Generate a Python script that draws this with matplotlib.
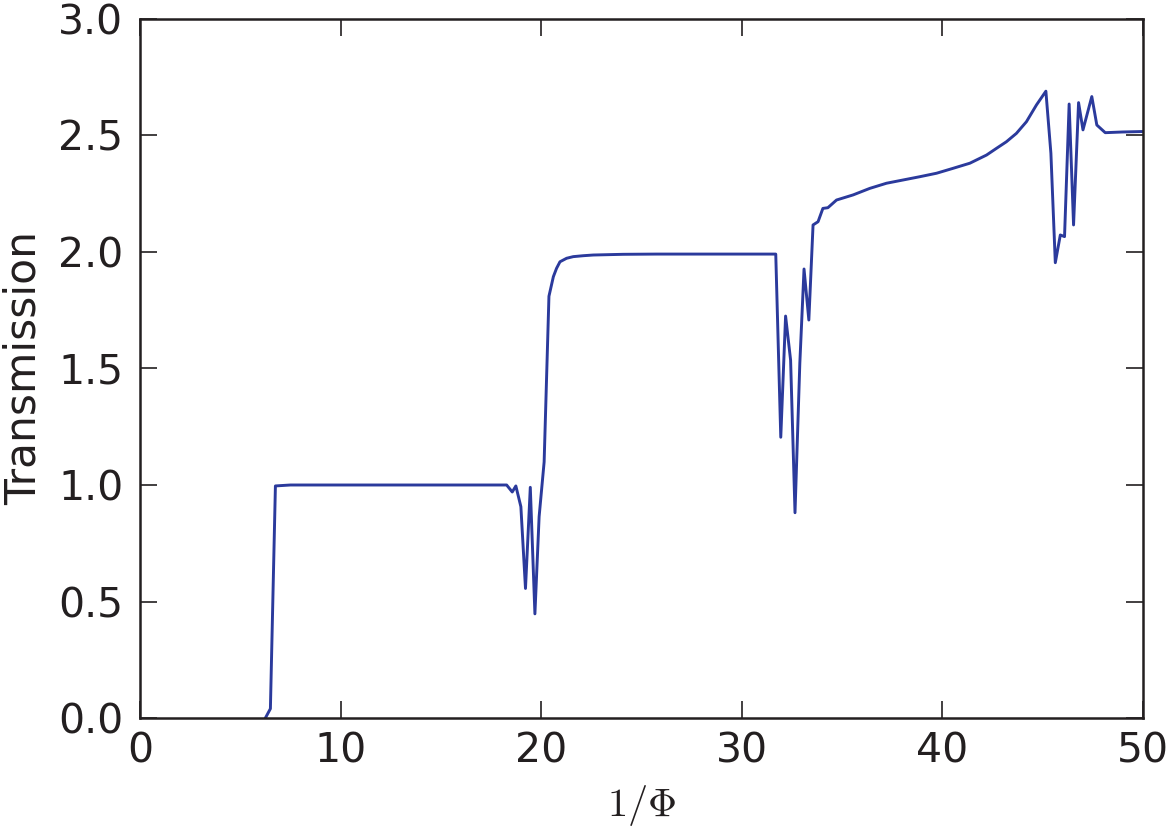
import matplotlib
matplotlib.use('Agg')
import matplotlib.pyplot as plt

# values
inv_phi = [6.25, 6.5, 6.75, 7.5, 12.0, 18.28, 18.56, 18.74, 18.99, 19.22, 19.46,
           19.69, 19.90, 20.15, 20.39, 20.61, 20.77, 20.94, 21.27, 21.60, 22.10, 22.60,
           24.09, 25.76, 28.5, 31.70, 31.95, 32.19, 32.44, 32.66, 32.90, 33.11, 33.35,
           33.56, 33.81, 34.05, 34.30, 34.73, 35.56, 36.39, 37.22, 38.05, 38.88, 39.72,
           40.54, 41.38, 42.21, 42.71, 43.20, 43.70, 44.20, 44.70, 45.17, 45.42,
           45.64, 45.89, 46.10, 46.33, 46.55, 46.80, 47.02, 47.46, 47.71, 48.13, 49.0, 50.0]
transmission = [0.0, 0.04, 0.996, 1.0, 1.0, 1.0, 0.97, 0.996, 0.907, 0.556, 0.99,
                0.447, 0.864, 1.099, 1.81, 1.894, 1.930, 1.958, 1.973, 1.980, 1.984, 1.987,
                1.990, 1.991, 1.991, 1.991, 1.205, 1.725, 1.536, 0.881, 1.522, 1.927, 1.708,
                2.116, 2.13, 2.187, 2.19, 2.223, 2.245, 2.273, 2.295, 2.309, 2.323, 2.338,
                2.359, 2.381, 2.416, 2.445, 2.473, 2.509, 2.559, 2.631, 2.69, 2.424,
                1.954, 2.073, 2.066, 2.635, 2.116, 2.641, 2.524, 2.667, 2.545, 2.512, 2.515, 2.517]

plt.rcParams['font.family'] = 'DejaVu Sans'
plt.rcParams['mathtext.fontset'] = 'cm'
plt.rcParams['xtick.direction'] = 'in'
plt.rcParams['ytick.direction'] = 'in'

fig = plt.figure(figsize=(11.7, 8.32), dpi=100)
ax = fig.add_axes([0.1197, 0.137, 0.857, 0.8402])

ax.plot(inv_phi, transmission, color='#2b3a9c', linewidth=2.1)

ax.set_xlim(0, 50)
ax.set_ylim(0, 3.0)
ax.set_xticks([0, 10, 20, 30, 40, 50])
ax.set_yticks([0.0, 0.5, 1.0, 1.5, 2.0, 2.5, 3.0])
ax.set_yticklabels(['0.0', '0.5', '1.0', '1.5', '2.0', '2.5', '3.0'])
ax.tick_params(axis='both', which='major', labelsize=29.5, length=12, width=1.2,
               top=True, right=True, colors='#231f20')
ax.tick_params(axis='y', pad=12)
ax.tick_params(axis='x', pad=10)
for s in ax.spines.values():
    s.set_linewidth(1.8)
    s.set_color('#231f20')

ax.set_xlabel(r'$1/\Phi$', fontsize=29, color='#231f20', labelpad=8)
ax.set_ylabel('Transmission', fontsize=30.5, color='#231f20', labelpad=10)

fig.savefig('out.png', dpi=100)
